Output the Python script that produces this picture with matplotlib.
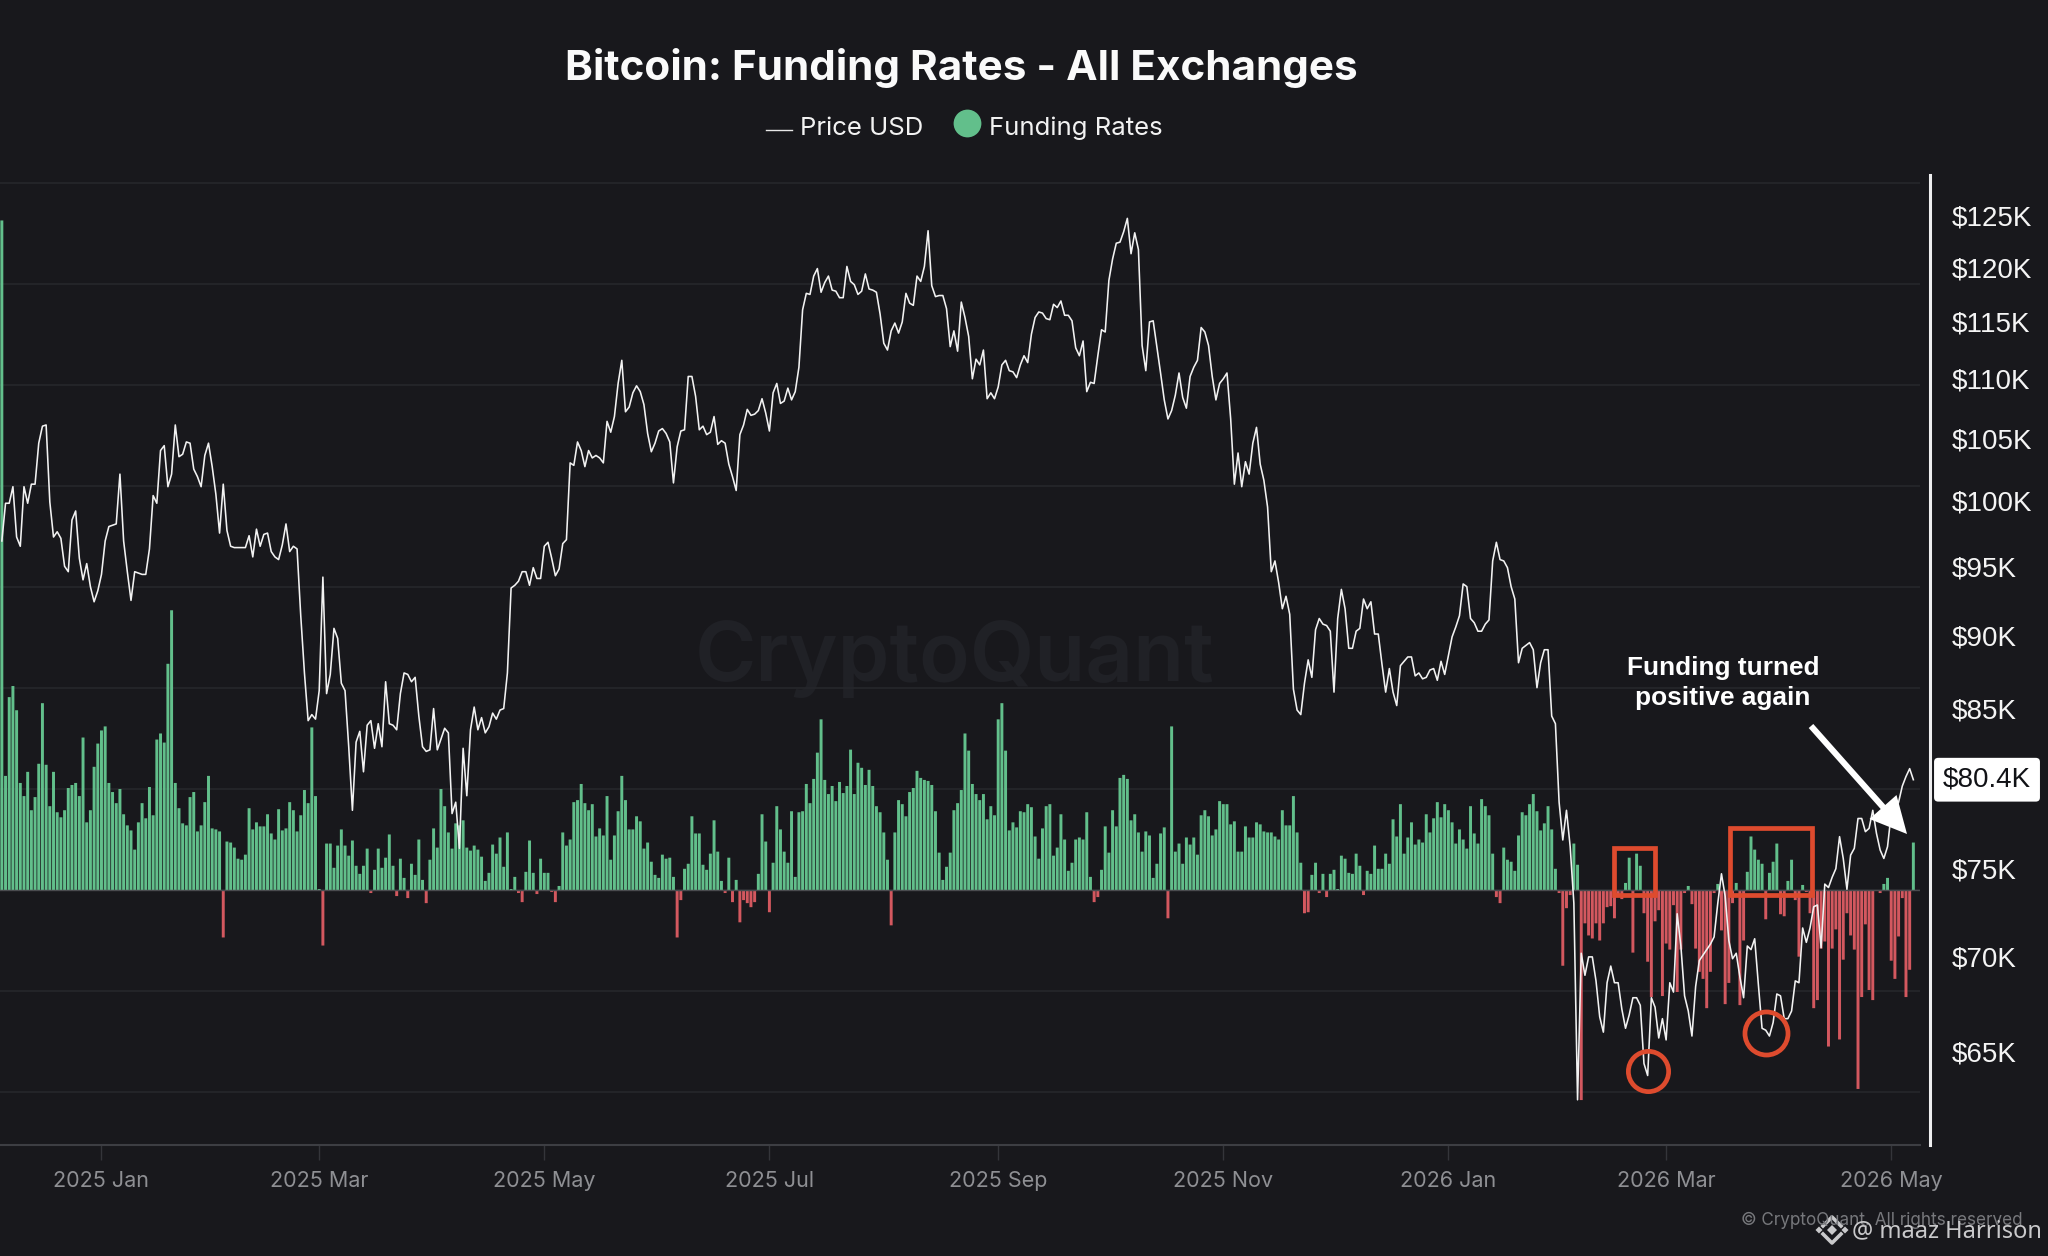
import pandas as pd
import matplotlib
matplotlib.use("Agg")
import matplotlib.pyplot as plt
import matplotlib.dates as mdates
from matplotlib.lines import Line2D
from matplotlib.patches import FancyArrowPatch, Polygon, Rectangle
from matplotlib.transforms import blended_transform_factory

# BTC close, $K, one value a day from 2024-12-05
price = [
    96.9, 99.8, 99.8, 101.1, 97.2, 96.5, 101.1, 99.8, 101.3, 101.3,
    104.6, 106.0, 106.1, 99.9, 97.2, 97.6, 97.1, 95.0, 94.6, 98.5,
    99.2, 95.6, 94.0, 95.2, 93.5, 92.4, 93.2, 94.4, 96.9, 98.0,
    98.1, 98.2, 102.1, 96.9, 94.6, 92.5, 94.6, 94.5, 94.4, 94.4,
    96.3, 100.4, 99.8, 104.0, 104.4, 101.1, 102.1, 106.1, 103.5, 103.7,
    104.7, 104.6, 102.5, 101.9, 101.1, 103.6, 104.6, 102.7, 100.5, 97.5,
    101.3, 97.7, 96.5, 96.4, 96.4, 96.4, 96.4, 97.3, 95.7, 97.8,
    96.5, 97.4, 97.5, 96.1, 95.7, 95.5, 96.6, 98.2, 96.1, 96.5,
    96.3, 91.4, 87.4, 84.2, 84.6, 84.3, 86.2, 94.2, 86.0, 87.3,
    90.5, 89.8, 86.7, 86.2, 82.5, 78.5, 82.8, 83.5, 80.9, 83.9,
    84.2, 82.4, 84.0, 82.5, 86.8, 84.0, 83.9, 83.6, 86.0, 87.4,
    87.3, 86.8, 87.1, 84.5, 82.5, 82.2, 82.3, 85.0, 82.3, 83.0,
    83.7, 83.4, 78.3, 79.0, 76.2, 82.4, 79.4, 83.6, 85.1, 83.6,
    84.4, 83.4, 83.8, 84.7, 84.3, 84.9, 85.0, 87.4, 93.4, 93.6,
    93.9, 94.6, 94.6, 93.6, 94.9, 94.1, 94.1, 96.5, 96.8, 95.6,
    94.3, 94.8, 96.7, 97.0, 103.0, 102.8, 104.7, 104.0, 102.7, 104.0,
    103.4, 103.6, 103.4, 103.0, 106.4, 105.5, 106.8, 109.6, 111.6, 107.2,
    107.6, 108.8, 109.4, 108.9, 107.8, 105.4, 103.9, 104.6, 105.6, 105.8,
    105.4, 104.7, 101.4, 104.3, 105.6, 105.7, 110.2, 110.2, 108.5, 105.7,
    106.0, 105.3, 105.5, 106.8, 104.5, 104.8, 104.6, 102.9, 101.9, 100.8,
    105.3, 106.1, 107.4, 106.9, 107.0, 107.3, 108.3, 107.1, 105.6, 108.8,
    109.6, 107.9, 108.1, 109.2, 108.2, 108.9, 111.0, 116.1, 117.6, 117.5,
    119.2, 119.9, 117.7, 118.6, 119.2, 117.9, 117.8, 117.2, 117.2, 120.1,
    118.7, 118.4, 117.5, 117.8, 119.4, 118.0, 117.9, 117.7, 115.7, 113.1,
    112.5, 114.2, 114.9, 114.0, 115.0, 117.6, 116.7, 116.5, 119.2, 118.7,
    120.1, 123.5, 118.3, 117.3, 117.4, 117.4, 116.2, 112.8, 114.2, 112.4,
    116.8, 115.4, 113.7, 110.0, 111.7, 111.2, 112.5, 108.3, 108.8, 108.3,
    109.3, 111.2, 111.6, 110.7, 110.6, 110.1, 111.2, 112.0, 111.4, 113.9,
    115.4, 115.9, 115.8, 115.3, 115.2, 116.6, 116.3, 116.9, 115.6, 115.6,
    115.1, 112.7, 112.0, 113.3, 108.9, 109.7, 109.6, 112.0, 114.3, 114.1,
    118.8, 120.8, 122.3, 122.4, 123.4, 124.7, 121.3, 123.3, 121.7, 112.9,
    110.7, 115.0, 115.1, 112.8, 110.5, 108.2, 106.6, 107.3, 108.6, 110.5,
    108.4, 107.5, 110.2, 111.0, 111.6, 114.5, 114.1, 112.9, 110.2, 108.2,
    109.6, 110.0, 110.5, 106.6, 101.3, 103.8, 101.1, 103.1, 102.1, 104.6,
    105.9, 102.9, 101.6, 99.5, 94.6, 95.4, 93.8, 91.9, 92.8, 91.5,
    86.3, 84.9, 84.6, 86.7, 88.3, 87.1, 90.4, 91.2, 90.8, 90.7,
    90.3, 86.1, 91.2, 93.3, 91.9, 89.1, 89.1, 90.3, 90.5, 92.6,
    91.9, 92.4, 90.1, 90.1, 88.0, 86.1, 87.7, 86.1, 85.2, 87.9,
    88.2, 88.5, 88.5, 87.2, 87.4, 87.0, 87.1, 87.6, 87.7, 86.9,
    88.2, 87.3, 88.6, 89.9, 90.6, 91.4, 93.7, 93.5, 91.2, 90.9,
    90.3, 90.3, 90.8, 91.1, 95.4, 96.8, 95.5, 95.4, 94.9, 93.5,
    92.6, 88.1, 89.1, 89.3, 89.5, 89.0, 86.4, 88.1, 89.0, 89.0,
    84.5, 84.0, 79.0, 76.7, 78.5, 76.3, 73.0, 62.6, 70.2, 69.0,
    70.0, 70.0, 68.7, 66.8, 66.0, 68.6, 69.5, 68.6, 68.6, 67.2,
    66.2, 66.9, 67.8, 67.8, 67.4, 64.4, 63.8, 67.8, 67.3, 65.7,
    66.7, 65.6, 68.6, 68.1, 72.4, 70.6, 67.9, 67.1, 65.8, 68.4,
    69.8, 70.1, 70.4, 70.7, 71.1, 73.0, 74.7, 73.4, 70.9, 69.9,
    70.2, 68.9, 67.8, 70.6, 70.4, 71.0, 68.5, 66.2, 66.1, 65.8,
    66.5, 68.0, 67.9, 66.7, 66.7, 67.1, 68.7, 68.6, 71.6, 70.8,
    71.6, 72.8, 72.9, 70.5, 74.1, 73.9, 74.5, 75.0, 76.9, 75.6,
    73.8, 75.8, 76.2, 78.0, 78.0, 77.2, 77.4, 78.5, 77.1, 76.1,
    75.6, 76.3, 78.3, 78.5, 79.0, 80.0, 80.6, 81.1, 80.4,
]

# funding rate, in thousandths, same days
funding = [
    66.3, 11.3, 19.1, 20.2, 17.8, 10.6, 9.3, 11.7, 7.9, 9.2,
    12.5, 18.5, 12.4, 8.3, 11.7, 7.7, 7.2, 7.9, 10.1, 10.4,
    10.6, 9.3, 15.1, 6.7, 7.9, 12.2, 14.5, 15.8, 16.2, 10.6,
    9.7, 8.6, 10.0, 7.5, 6.4, 5.9, 4.0, 6.7, 8.6, 7.1,
    10.2, 7.4, 14.9, 15.5, 14.6, 22.4, 27.7, 10.6, 8.1, 6.6,
    6.4, 9.2, 9.7, 5.8, 6.4, 8.7, 11.3, 6.1, 6.0, 5.8,
    -4.7, 4.8, 4.7, 4.2, 3.1, 3.0, 3.5, 8.1, 6.0, 6.7,
    6.3, 6.3, 7.5, 5.6, 5.0, 8.0, 5.9, 6.1, 8.7, 7.9,
    5.8, 7.4, 9.9, 8.6, 16.1, 9.3, 0.1, -5.5, 4.6, 4.6,
    2.2, 4.4, 6.0, 4.4, 3.4, 4.9, 2.4, 1.6, 2.4, 4.1,
    -0.3, 2.0, 4.1, 2.2, 3.2, 5.5, 2.4, -0.6, 3.1, 1.2,
    -0.8, 2.6, 1.5, 5.0, 1.0, -1.3, 3.0, 6.1, 4.2, 10.0,
    8.3, 5.7, 4.1, 6.6, 6.4, 6.9, 4.2, 3.9, 4.4, 4.0,
    3.3, 0.9, 1.7, 4.5, 3.6, 5.2, 2.3, 5.7, 0.1, 1.3,
    -0.3, -1.2, 1.8, 4.9, 1.7, -0.4, 3.1, 1.7, 1.7, -0.2,
    -1.2, 0.4, 5.7, 4.4, 5.0, 8.7, 8.9, 10.5, 8.6, 7.9,
    8.5, 5.3, 6.1, 5.4, 9.3, 3.0, 5.4, 7.8, 11.3, 8.9,
    6.0, 6.0, 7.3, 6.8, 4.1, 4.7, 2.8, 1.5, 1.2, 3.5,
    3.1, 3.2, 1.3, -4.7, -1.0, 2.1, 2.6, 7.3, 5.6, 5.6,
    2.5, 2.0, 3.6, 6.9, 3.8, 0.9, -0.3, 3.2, -1.2, 1.0,
    -3.2, -1.0, -1.3, -1.7, -1.2, 1.6, 7.5, 4.8, -2.2, 2.7,
    8.3, 6.0, 3.8, 2.7, 7.8, 1.3, 7.7, 7.8, 10.5, 8.6,
    11.0, 13.6, 16.9, 10.9, 9.5, 10.3, 8.8, 10.7, 9.6, 10.3,
    13.9, 9.5, 12.6, 12.1, 10.4, 11.9, 10.3, 8.3, 7.7, 5.7,
    3.0, -3.5, 5.7, 8.9, 8.5, 7.3, 9.7, 10.1, 11.8, 11.1,
    10.9, 10.8, 10.4, 7.8, 3.7, 1.0, 2.3, 3.7, 7.9, 8.6,
    9.9, 15.5, 13.8, 10.5, 9.5, 8.9, 9.5, 7.0, 8.3, 7.4,
    16.9, 18.5, 13.8, 5.9, 6.7, 6.2, 7.8, 7.7, 8.5, 8.2,
    5.3, 3.1, 6.1, 8.3, 8.5, 3.4, 4.2, 7.5, 5.0, 1.9,
    2.7, 5.0, 5.2, 5.0, 7.7, 1.3, -1.2, -0.7, 2.0, 6.3,
    3.7, 7.9, 6.3, 11.1, 11.4, 11.0, 6.9, 7.5, 5.7, 3.8,
    5.8, 5.4, 1.2, 2.6, 5.6, 6.2, -2.8, 16.2, 3.8, 4.6,
    2.6, 5.2, 4.5, 5.2, 3.5, 7.4, 7.9, 7.3, 5.4, 6.0,
    8.8, 8.5, 8.5, 6.5, 6.8, 3.8, 3.8, 6.3, 5.2, 5.2,
    6.7, 6.5, 5.8, 5.7, 5.7, 5.3, 5.0, 7.9, 6.4, 6.4,
    9.3, 5.7, 2.7, -2.3, -2.2, 1.5, 2.7, -0.3, 1.6, -0.7,
    1.6, 2.0, 0.1, 3.4, 3.1, 1.7, 1.6, 3.6, 2.4, -0.5,
    1.9, 1.6, 4.4, 2.1, 2.1, 3.6, 2.6, 7.0, 5.3, 8.5,
    3.6, 5.2, 6.7, 4.5, 5.0, 4.7, 7.5, 5.7, 7.1, 8.7,
    7.2, 8.5, 7.9, 6.7, 4.6, 6.0, 5.0, 4.1, 8.3, 5.6,
    4.6, 9.0, 8.3, 7.4, 3.6, -0.7, -1.3, 4.2, 3.0, 2.8,
    1.9, 5.4, 7.7, 7.4, 8.5, 9.5, 7.8, 5.9, 6.6, 8.3,
    6.0, 2.1, -0.3, -7.5, -1.8, -0.5, 4.6, 2.5, -20.8, -3.3,
    -4.5, -4.8, -3.3, -5.0, -3.3, -1.7, -1.6, -2.8, -0.7, -0.9,
    0.7, 3.2, -6.2, 3.6, 2.4, -2.3, -7.1, -10.6, -3.1, -2.0,
    -10.5, -5.3, -5.9, -1.5, -10.1, -5.9, -0.3, 0.4, -1.4, -5.8,
    -8.1, -8.8, -11.7, -8.1, -0.3, 0.6, -4.0, -11.3, -9.2, -1.3,
    0.7, -11.4, -5.0, 1.8, 5.3, 4.0, 3.0, 2.6, -2.9, 1.7,
    2.8, 4.6, -2.4, -2.6, 0.9, 3.0, -1.0, -6.6, 0.5, -0.2,
    -2.3, -11.7, -10.9, -5.8, -5.1, -15.5, -5.8, -3.9, -14.8, -6.9,
    -2.3, -4.5, -5.9, -19.7, -10.6, -3.4, -9.9, -10.9, -0.1, -0.3,
    0.6, 1.2, -7.0, -8.8, -4.6, -0.8, -10.6, -7.9, 4.7,
]

price_ticks = [65, 70, 75, 85, 90, 95, 100, 105, 110, 115, 120, 125]
last_price = 80.4

BG = "#18181c"
GREEN = "#62bf8b"
RED = "#d3585f"
ORANGE = "#de4b2e"
W, H = 2048, 1256


def fx(x):
    return x / W


def fy(y):
    return 1 - y / H


dates = pd.date_range("2024-12-05", periods=len(price))
colors = [GREEN if v >= 0 else RED for v in funding]

fig = plt.figure(figsize=(W / 100, H / 100), dpi=100, facecolor=BG)
ax = fig.add_axes([0, fy(1144.5), fx(1920), fy(175) - fy(1144.5)], facecolor=BG)

ax.bar(dates, funding, width=0.8, color=colors, linewidth=0, zorder=3, snap=False)
ax.set_ylim(-25.2, 70.8)
ax.set_yticks(range(-20, 71, 10))
ax.tick_params(axis="y", length=0, labelleft=False)
ax.grid(axis="y", color="#26272b", linewidth=1.2, zorder=0)
ax.axhline(0, color="#4a4b4f", linewidth=1, zorder=4)
ax.set_xlim(dates[0] - pd.Timedelta(hours=12), dates[0] + pd.Timedelta(days=519.8))

month_ticks = pd.date_range("2025-01-01", "2026-05-01", freq="2MS")
ax.set_xticks(month_ticks)
ax.xaxis.set_major_formatter(mdates.DateFormatter("%Y %b"))
ax.tick_params(axis="x", length=11, width=1, color="#34353a", labelcolor="#8e8f93",
               labelsize=15.5, pad=8, labelfontfamily="Inter")

for s in ["top", "left", "right"]:
    ax.spines[s].set_visible(False)
ax.spines["bottom"].set_color("#3d3e43")
ax.spines["bottom"].set_linewidth(1.5)

ax.text(0.497, 1 - (659 - 175) / (1144.5 - 175), "CryptoQuant", transform=ax.transAxes, ha="center",
        va="center", fontsize=60, family="Inter", fontweight="semibold", color="#202126", zorder=1)

ax2 = ax.twinx()
ax2.set_yscale("log")
ax2.plot(dates, price, color="#f2f2f2", linewidth=1.15, zorder=5)
ax2.set_ylim(60.45, 129.0)
ax2.set_yticks(price_ticks)
ax2.set_yticklabels([f"${p}K" for p in price_ticks])
ax2.minorticks_off()
ax2.tick_params(axis="y", length=0, pad=15.4, labelsize=20, labelcolor="#f4f4f4",
                labelfontfamily="Liberation Sans")
ax2.patch.set_visible(False)
for s in ["top", "left", "bottom"]:
    ax2.spines[s].set_visible(False)
ax2.spines["right"].set_position(("outward", 7.2))
ax2.spines["right"].set_color("#eeeeef")
ax2.spines["right"].set_linewidth(2.2)

# last value flag
trans = blended_transform_factory(ax2.transAxes, ax2.transData)
ax2.text(1987 / 1920, last_price, f"${last_price}K", transform=trans, ha="center", va="center",
         family="Liberation Sans", fontsize=20, color="#111216",
         bbox=dict(boxstyle="round,pad=0.32,rounding_size=0.15", facecolor="white", edgecolor="none"),
         zorder=8, clip_on=False)

# title and legend
fig.text(fx(961), fy(80), "Bitcoin: Funding Rates - All Exchanges", ha="center", va="baseline",
         fontsize=30.4, family="Inter", fontweight="bold", color="#fafafa")
fig.add_artist(Line2D([fx(766), fx(792)], [fy(130), fy(130)], color="#e8e8e8", linewidth=1))
fig.text(fx(800), fy(135), "Price USD", ha="left", va="baseline", fontsize=18.5, family="Inter", color="#f2f2f2")
fig.add_artist(Line2D([fx(967)], [fy(123)], marker="o", markersize=20, markerfacecolor=GREEN,
                      markeredgewidth=0, linestyle="none"))
fig.text(fx(989), fy(135), "Funding Rates", ha="left", va="baseline", fontsize=18.5, family="Inter",
         color="#f2f2f2")

# hand drawn highlights
for x0, y0, x1, y1 in [(1614, 848, 1655, 895), (1730, 828, 1812, 895)]:
    fig.add_artist(Rectangle((fx(x0), fy(y1)), fx(x1 - x0), fy(y0) - fy(y1), transform=fig.transFigure,
                             fill=False, edgecolor=ORANGE, linewidth=3.4))
for cx, cy, d in [(1647.7, 1070.7, 29), (1765.7, 1032.7, 31)]:
    fig.add_artist(Line2D([fx(cx)], [fy(cy)], marker="o", markersize=d, markerfacecolor="none",
                          markeredgecolor=ORANGE, markeredgewidth=3.4, linestyle="none"))

fig.text(fx(1723), fy(683), "Funding turned\npositive again", ha="center", va="center", fontsize=18.9,
         family="Liberation Sans", fontweight="bold", color="white", linespacing=1.3)
fig.add_artist(FancyArrowPatch((fx(1811), fy(726)), (fx(1907), fy(834)), transform=fig.transFigure,
                               arrowstyle="simple,tail_width=0.22,head_width=1.3,head_length=1.3",
                               mutation_scale=20, color="white", linewidth=0, shrinkA=0, shrinkB=0))

# footer
fig.text(fx(2023), fy(1220), "© CryptoQuant. All rights reserved", ha="right", va="center", fontsize=12.3,
         family="Inter", color="#77787c")
fig.text(fx(1852), fy(1231), "@ maaz Harrison", ha="left", va="center", fontsize=17, family="Noto Sans",
         color="#c9c9cb")
cx, cy = 1832, 1230
diamonds = [(0, 0, 5), (-13, 0, 3.5), (13, 0, 3.5)]
for dx, dy, r in diamonds:
    pts = [(fx(cx + dx - r), fy(cy + dy)), (fx(cx + dx), fy(cy + dy - r)),
           (fx(cx + dx + r), fy(cy + dy)), (fx(cx + dx), fy(cy + dy + r))]
    fig.add_artist(Polygon(pts, transform=fig.transFigure, facecolor="#c9c9cb", edgecolor="none"))
for sign in (-1, 1):
    xs = [fx(cx - 9), fx(cx), fx(cx + 9)]
    ys = [fy(cy + sign * 4), fy(cy + sign * 13), fy(cy + sign * 4)]
    fig.add_artist(Line2D(xs, ys, color="#c9c9cb", linewidth=2.6))

fig.savefig("out.png", dpi=100, facecolor=BG)
